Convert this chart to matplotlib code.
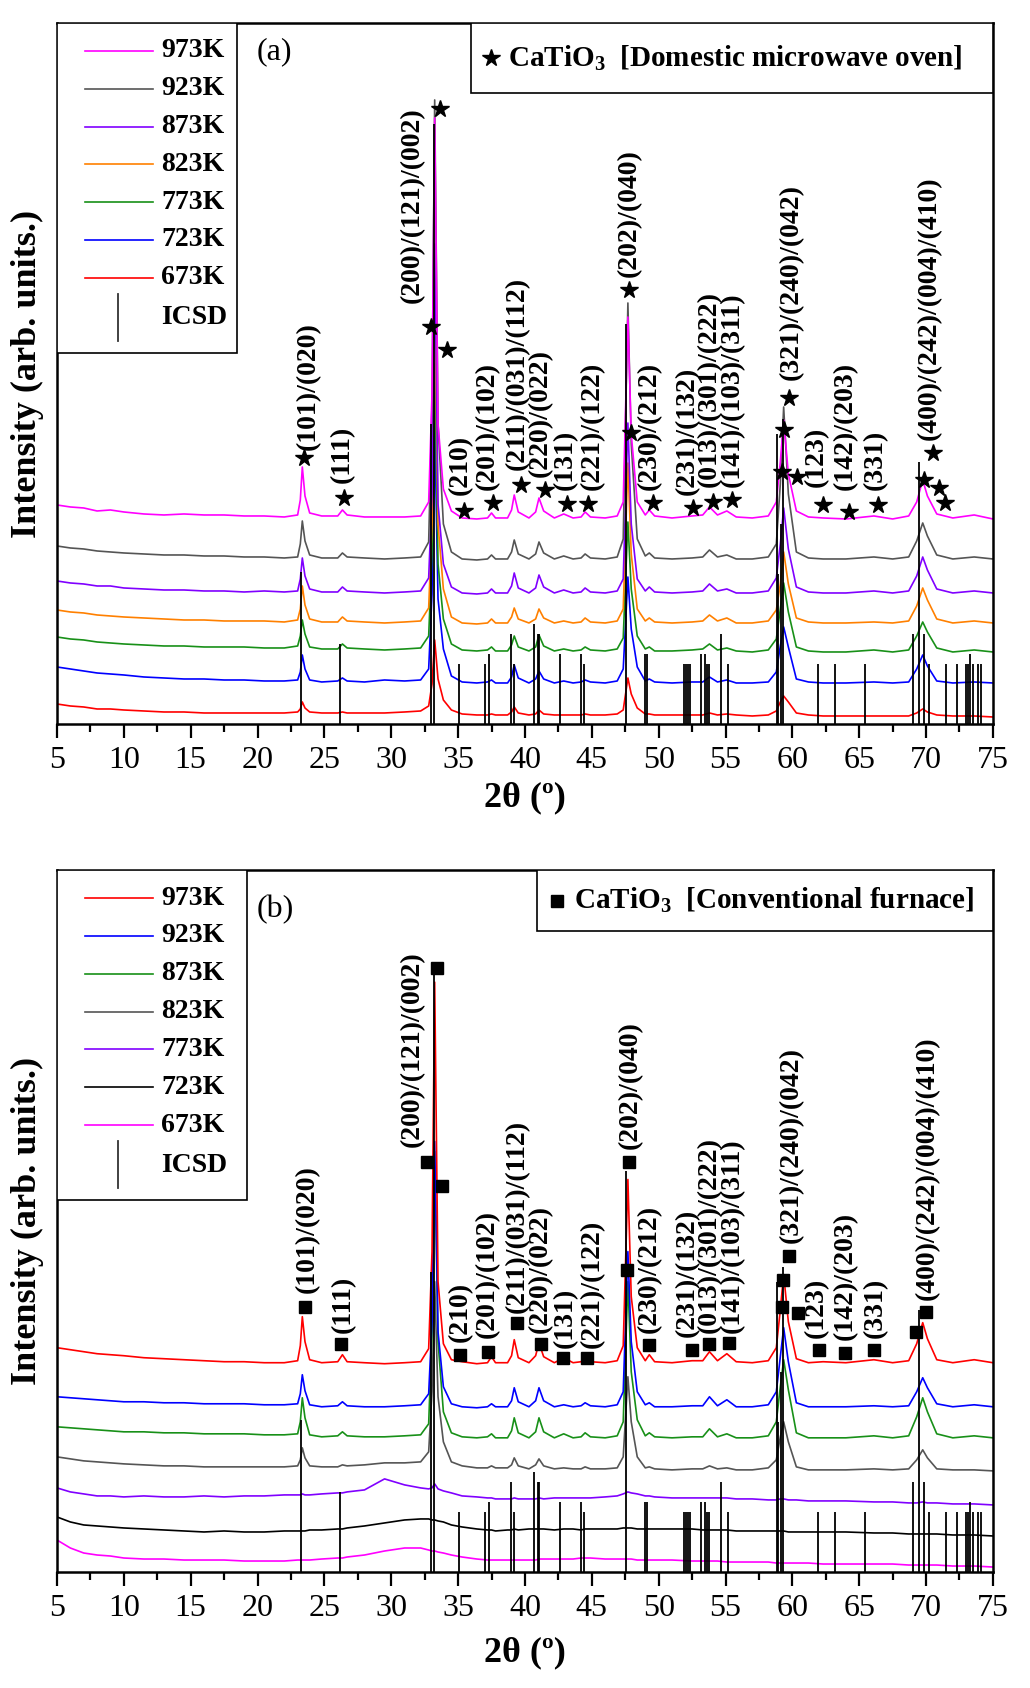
import numpy as np
import matplotlib.pyplot as plt
from matplotlib.patches import Rectangle
from matplotlib.ticker import MultipleLocator

plt.rcParams['font.family'] = ['Liberation Serif', 'DejaVu Serif']

# 2-theta grid shared by every pattern (degrees)
two_theta = [5, 6, 7, 8, 9, 10, 11.5, 13, 14.5, 16, 17.5, 19, 20.5, 22,
             23.0, 23.2, 23.35, 23.55, 23.9, 24.8, 26.0, 26.35, 26.7, 28, 29.5, 31, 32.2,
             32.8, 33.05, 33.25, 33.5, 33.9, 34.5, 35.3, 36.4, 37.2, 37.5, 37.8, 38.7,
             39.0, 39.2, 39.5, 40.3, 40.8, 41.05, 41.4, 42.2, 42.9, 43.6, 44.2, 44.5, 44.9,
             46.0, 46.9, 47.35, 47.7, 47.95, 48.4, 49.0, 49.3, 49.7, 51.0, 52.5, 53.3, 53.8, 54.4, 55.1, 55.8,
             57.0, 58.2, 58.8, 59.1, 59.35, 59.7, 60.3, 61.2, 62.3, 64.0, 66.1, 67.5, 68.7, 69.3, 69.75, 70.1, 70.8, 72.0, 73.6, 75]

temps = ['973K', '923K', '873K', '823K', '773K', '723K', '673K']

# (a) domestic microwave oven, intensities (arb. units, stacked)
mw_973 = [219, 217, 216, 213, 214, 212, 210, 209, 210, 209, 209, 208, 208, 207,
          209, 224, 257, 228, 211, 208, 208, 214, 209, 207, 207, 207, 208,
          222, 330, 606, 300, 235, 213, 206, 205, 206, 211, 206, 206,
          214, 229, 212, 206, 212, 226, 213, 206, 210, 206, 207, 212, 207,
          206, 208, 222, 407, 290, 222, 209, 214, 208, 206, 208, 209, 217, 209, 213, 207,
          206, 208, 222, 262, 304, 250, 213, 207, 206, 205, 208, 205, 208, 222, 244, 228, 210, 206, 209, 205]
mw_923 = [178, 176, 175, 173, 172, 171, 170, 169, 169, 168, 168, 167, 167, 166,
          167, 180, 203, 183, 169, 166, 166, 171, 167, 166, 165, 166, 167,
          182, 320, 624, 300, 200, 172, 165, 164, 165, 169, 165, 165,
          172, 184, 170, 165, 170, 182, 171, 165, 168, 165, 166, 170, 166,
          165, 167, 185, 421, 280, 185, 168, 171, 166, 165, 166, 167, 174, 167, 169, 165,
          165, 167, 180, 240, 317, 230, 172, 166, 165, 165, 167, 165, 167, 183, 201, 188, 169, 165, 167, 165]
mw_873 = [143, 141, 140, 138, 138, 136, 135, 134, 134, 133, 133, 132, 133, 132,
          133, 145, 166, 148, 135, 132, 132, 137, 133, 132, 131, 132, 133,
          146, 230, 480, 220, 160, 137, 131, 130, 131, 135, 131, 131,
          138, 151, 136, 131, 136, 149, 137, 131, 134, 131, 132, 136, 132,
          131, 133, 145, 301, 200, 145, 133, 137, 132, 131, 132, 133, 140, 133, 135, 131,
          131, 133, 146, 180, 216, 175, 137, 132, 131, 131, 133, 131, 133, 148, 167, 154, 135, 131, 133, 131]
mw_823 = [114, 112, 111, 109, 108, 107, 106, 105, 104, 104, 103, 103, 103, 102,
          104, 115, 138, 119, 105, 102, 102, 107, 103, 102, 101, 102, 103,
          116, 200, 440, 200, 135, 107, 101, 100, 101, 105, 101, 101,
          107, 116, 105, 101, 105, 115, 106, 101, 103, 101, 102, 106, 102,
          101, 103, 115, 261, 170, 115, 103, 106, 102, 101, 102, 103, 109, 103, 106, 101,
          101, 103, 114, 140, 172, 140, 106, 102, 101, 101, 102, 101, 103, 118, 136, 124, 105, 101, 103, 101]
mw_773 = [87, 85, 84, 82, 81, 80, 79, 78, 78, 77, 77, 77, 76, 76,
          78, 88, 104, 90, 77, 75, 75, 80, 76, 75, 74, 75, 76,
          88, 170, 360, 160, 105, 80, 74, 73, 74, 77, 73, 73,
          79, 88, 77, 73, 77, 89, 78, 73, 75, 73, 74, 77, 74,
          73, 75, 86, 202, 135, 88, 75, 77, 73, 73, 74, 75, 80, 74, 76, 73,
          72, 74, 85, 115, 141, 112, 77, 73, 72, 72, 74, 72, 74, 88, 102, 92, 76, 72, 74, 72]
mw_723 = [57, 55, 53, 51, 50, 49, 47, 46, 45, 45, 44, 44, 43, 43,
          44, 52, 69, 55, 44, 42, 43, 46, 43, 42, 44, 43, 44,
          55, 130, 300, 125, 75, 48, 42, 41, 42, 44, 41, 41,
          47, 59, 46, 41, 45, 53, 45, 41, 43, 41, 42, 44, 42,
          41, 43, 55, 147, 95, 57, 43, 45, 42, 41, 42, 42, 47, 42, 44, 41,
          41, 42, 52, 78, 97, 77, 45, 42, 41, 41, 42, 41, 42, 55, 69, 58, 43, 41, 42, 41]
mw_673 = [20, 18, 17, 15, 15, 14, 13, 12, 12, 11, 11, 11, 11, 11,
          12, 15, 22, 16, 12, 11, 11, 12, 11, 11, 11, 12, 13,
          18, 40, 84, 45, 24, 14, 10, 9, 9, 10, 9, 9,
          12, 17, 11, 9, 10, 14, 10, 9, 9, 9, 9, 10, 9,
          9, 10, 14, 46, 30, 16, 10, 10, 9, 9, 9, 9, 11, 9, 10, 9,
          8, 9, 13, 22, 28, 22, 11, 9, 8, 8, 8, 8, 8, 11, 15, 12, 9, 8, 8, 7]

# (b) conventional furnace
cf_973 = [224, 222, 220, 218, 217, 216, 214, 213, 212, 211, 210, 210, 209, 209,
          211, 226, 255, 230, 212, 209, 210, 217, 210, 209, 208, 209, 210,
          223, 320, 589, 290, 228, 212, 210, 208, 209, 215, 209, 209,
          216, 232, 214, 209, 216, 229, 215, 209, 214, 209, 210, 216, 210,
          209, 211, 226, 392, 275, 224, 211, 217, 210, 209, 211, 211, 220, 211, 218, 210,
          209, 211, 224, 262, 297, 250, 213, 209, 210, 209, 212, 209, 211, 228, 249, 233, 212, 209, 212, 209]
cf_923 = [175, 174, 173, 172, 171, 170, 170, 169, 169, 168, 168, 168, 167, 167,
          168, 178, 197, 181, 167, 165, 166, 170, 166, 165, 165, 166, 167,
          178, 250, 430, 240, 185, 168, 165, 164, 165, 168, 165, 165,
          171, 184, 170, 165, 171, 184, 171, 165, 167, 165, 166, 169, 166,
          165, 167, 180, 320, 230, 180, 167, 169, 165, 165, 166, 166, 175, 166, 172, 165,
          165, 167, 180, 215, 244, 210, 169, 165, 165, 165, 166, 165, 166, 180, 194, 184, 168, 165, 167, 165]
cf_873 = [145, 144, 143, 142, 141, 140, 140, 139, 139, 138, 138, 138, 137, 137,
          138, 150, 174, 154, 137, 135, 136, 140, 136, 135, 135, 136, 137,
          148, 240, 420, 230, 160, 139, 135, 134, 135, 138, 134, 134,
          141, 154, 139, 134, 140, 154, 140, 134, 138, 134, 135, 139, 135,
          134, 136, 150, 290, 200, 152, 136, 139, 135, 134, 135, 135, 143, 135, 138, 134,
          134, 136, 150, 185, 212, 182, 139, 134, 134, 134, 136, 134, 136, 155, 174, 160, 138, 134, 136, 134]
cf_823 = [115, 113, 111, 110, 109, 108, 107, 106, 106, 105, 105, 105, 105, 105,
          106, 112, 124, 114, 106, 105, 105, 107, 106, 107, 109, 109, 110,
          120, 180, 290, 175, 130, 110, 106, 104, 104, 106, 104, 104,
          107, 114, 106, 103, 107, 113, 106, 103, 104, 103, 103, 105, 103,
          103, 104, 115, 195, 150, 115, 104, 105, 103, 102, 103, 103, 106, 103, 104, 102,
          102, 104, 112, 135, 150, 130, 105, 102, 102, 102, 103, 102, 103, 112, 122, 114, 103, 102, 102, 101]
cf_773 = [84, 80, 78, 76, 76, 75, 76, 75, 75, 76, 75, 76, 76, 77,
          77, 77, 78, 77, 77, 78, 79, 79, 80, 82, 93, 87, 84,
          83, 84, 88, 83, 81, 79, 76, 75, 74, 74, 73, 73,
          73, 74, 73, 73, 73, 74, 73, 74, 74, 74, 74, 74, 74,
          75, 76, 78, 80, 79, 78, 76, 76, 75, 74, 74, 74, 74, 74, 74, 73,
          73, 72, 72, 73, 73, 72, 72, 71, 71, 71, 70, 70, 69, 69, 70, 69, 69, 68, 68, 67]
cf_723 = [55, 50, 47, 46, 45, 44, 43, 42, 41, 40, 41, 40, 40, 41,
          41, 41, 41, 41, 42, 42, 43, 43, 44, 46, 49, 52, 53,
          53, 52, 52, 51, 50, 47, 45, 43, 42, 42, 41, 42,
          42, 43, 42, 43, 43, 43, 43, 42, 43, 43, 42, 43, 43,
          43, 43, 44, 44, 44, 43, 43, 43, 43, 43, 43, 42, 42, 42, 42, 41,
          41, 41, 41, 41, 41, 40, 40, 40, 40, 40, 39, 39, 38, 38, 38, 38, 38, 37, 37, 36]
cf_673 = [32, 24, 19, 17, 16, 14, 13, 13, 12, 12, 12, 11, 11, 11,
          12, 12, 12, 12, 12, 13, 14, 14, 15, 17, 21, 24, 24,
          22, 21, 21, 20, 19, 17, 15, 13, 12, 12, 12, 12,
          12, 12, 12, 12, 12, 13, 13, 13, 13, 13, 14, 14, 14,
          13, 13, 13, 13, 13, 12, 12, 12, 12, 12, 11, 11, 11, 11, 10, 10,
          10, 10, 9, 9, 9, 9, 9, 9, 8, 8, 8, 8, 7, 7, 7, 7, 7, 6, 6, 5]

# ICSD reference reflections
icsd_pos = [23.25, 26.15, 33.0, 33.2, 35.05, 37.0, 37.3, 38.95, 39.15, 40.7, 40.95, 41.05,
            42.6, 44.2, 44.4, 47.55, 49.0, 49.1, 51.9, 52.05, 52.2, 52.35, 53.2, 53.45, 53.6,
            53.75, 54.65, 55.15, 58.85, 58.95, 59.15, 59.3, 61.95, 63.2, 65.47, 69.0, 69.45,
            69.87, 70.25, 71.5, 72.3, 73.0, 73.1, 73.3, 73.5, 73.86, 74.12]
icsd_int = [152, 80, 300, 600, 60, 60, 70, 90, 60, 100, 90, 90,
            70, 70, 60, 400, 70, 70, 60, 60, 60, 60, 70, 70, 60,
            60, 90, 60, 290, 150, 200, 305, 60, 60, 60, 90, 262,
            90, 60, 60, 60, 60, 60, 70, 60, 60, 60]

hkl = ['(101)/(020)', '(111)', '(200)/(121)/(002)', '(210)', '(201)/(102)',
       '(211)/(031)/(112)', '(220)/(022)', '(131)', '(221)/(122)', '(202)/(040)',
       '(230)/(212)', '(231)/(132)', '(013)/(301)/(222)', '(141)/(103)/(311)',
       '(321)/(240)/(042)', '(123)', '(142)/(203)', '(331)', '(400)/(242)/(004)/(410)']
hkl_x_a = [23.83, 26.36, 31.57, 35.16, 37.18, 39.42, 41.15, 43.02, 45.04, 47.78,
           49.28, 52.15, 53.8, 55.54, 59.93, 61.82, 63.97, 66.24, 70.27]
hkl_y_a = [274, 241, 421, 229, 234, 254, 247, 234, 234, 447,
           234, 229, 237, 237, 344, 237, 234, 234, 284]
hkl_x_b = [23.76, 26.44, 31.57, 35.16, 37.18, 39.42, 41.15, 43.02, 45.04, 47.85,
           49.28, 52.15, 53.8, 55.54, 59.93, 61.82, 63.97, 66.24, 70.12]
hkl_y_b = [279, 239, 424, 230, 234, 259, 239, 224, 224, 422,
           239, 235, 239, 239, 329, 234, 232, 234, 272]

star_x = [23.46, 26.44, 33.66, 32.94, 34.19, 35.46, 37.63, 39.72, 41.52, 43.17, 44.72,
          47.78, 47.9, 49.6, 52.6, 54.05, 55.49, 59.75, 59.37, 59.2, 60.32, 62.32, 64.22,
          66.43, 70.52, 69.83, 70.97, 71.4]
star_y = [266, 226, 615, 397, 374, 213, 221, 239, 234, 220, 220,
          434, 291, 221, 216, 222, 224, 326, 294, 252, 247, 219, 212,
          219, 271, 244, 236, 221]
square_x = [23.56, 26.28, 33.44, 32.69, 33.81, 35.18, 37.23, 39.37, 41.19, 42.87, 44.66,
            47.78, 47.66, 49.28, 52.52, 53.8, 55.24, 59.75, 59.33, 59.2, 60.45, 62.0, 63.97,
            66.11, 70.03, 69.28]
square_y = [265, 228, 603, 409, 385, 217, 220, 249, 228, 214, 214,
            409, 302, 227, 222, 228, 229, 316, 292, 265, 259, 222, 219,
            222, 260, 240]

colors_a = ['#ff00ff', '#555555', '#8000ff', '#ff8000', '#189018', '#0000ff', '#ff0000']
colors_b = ['#ff0000', '#0000ff', '#189018', '#555555', '#8000ff', '#000000', '#ff00ff']

fig = plt.figure(figsize=(10.3, 16.88), dpi=100)
ax_a = fig.add_axes([0.0553, 0.5711, 0.9087, 0.4153])
ax_b = fig.add_axes([0.0553, 0.0687, 0.9087, 0.4159])


def draw_panel(ax, curves, colors, marker, mx, my, lx, ly, legend_w, box_x, box_h,
               box_text, letter, letter_y):
    # lowest pattern first so the hottest one sits on top
    for y, c in reversed(list(zip(curves, colors))):
        ax.plot(two_theta, y, color=c, lw=1.2, zorder=2)
    ax.vlines(icsd_pos, 0, icsd_int, color='k', lw=1.3, zorder=3)

    ms = 13 if marker == '*' else 8
    ax.plot(mx, my, ls='none', marker=marker, ms=ms, color='k', zorder=5)
    for t, x, y in zip(hkl, lx, ly):
        ax.text(x, y, t, rotation=90, ha='center', va='bottom',
                fontsize=20, fontweight='bold', zorder=6)

    ax.set_xlim(5, 75)
    ax.set_ylim(0, 701)
    ax.set_yticks([])
    ax.set_xticks(np.arange(5, 76, 5))
    ax.xaxis.set_minor_locator(MultipleLocator(2.5))
    ax.tick_params(axis='x', which='major', direction='out', length=10, width=1.6,
                   labelsize=23, pad=6)
    ax.tick_params(axis='x', which='minor', direction='out', length=6, width=1.6)
    for s in ax.spines.values():
        s.set_linewidth(1.8)

    ax.set_ylabel('Intensity (arb. units.)', fontsize=26, fontweight='bold')
    ax.yaxis.set_label_coords(-0.014, 0.5)
    ax.set_xlabel('2θ (º)', fontsize=26, fontweight='bold', va='top')

    # temperature legend
    H = 701.0
    ax.add_patch(Rectangle((0, 1 - 330 / H), legend_w, 330 / H, transform=ax.transAxes,
                           fill=True, facecolor='white', edgecolor='k', lw=1.2, zorder=7))
    for i, (t, c) in enumerate(zip(temps, colors)):
        yy = 1 - (28 + 37.8 * i) / H
        ax.plot([0.0299, 0.1026], [yy, yy], color=c, lw=1.2, transform=ax.transAxes, zorder=8)
        ax.text(0.1111, yy, t, fontsize=20, fontweight='bold', va='center', ha='left',
                transform=ax.transAxes, zorder=8)
    ax.plot([0.0652, 0.0652], [1 - 271 / H, 1 - 318 / H], color='#333333', lw=1.3,
            transform=ax.transAxes, zorder=8)
    ax.text(0.1111, 1 - 295 / H, 'ICSD', fontsize=20, fontweight='bold', va='center',
            ha='left', transform=ax.transAxes, zorder=8)

    # phase box
    ax.add_patch(Rectangle((box_x, 1 - box_h / H), 1 - box_x, box_h / H, transform=ax.transAxes,
                           fill=True, facecolor='white', edgecolor='k', lw=1.2, zorder=7))
    yb = 1 - (box_h / 2) / H
    ax.plot([box_x + 0.021], [yb], marker=marker, ms=ms, color='k', ls='none',
            transform=ax.transAxes, zorder=8)
    ax.text(box_x + 0.04, yb, box_text, fontsize=21, fontweight='bold', va='center',
            ha='left', transform=ax.transAxes, zorder=8)

    ax.text(0.2137, letter_y, letter, fontsize=23, va='center', ha='left',
            transform=ax.transAxes)


draw_panel(ax_a, [mw_973, mw_923, mw_873, mw_823, mw_773, mw_723, mw_673], colors_a,
           '*', star_x, star_y, hkl_x_a, hkl_y_a, 0.1923, 0.4423, 70,
           r'CaTiO$_\mathregular{3}$  [Domestic microwave oven]', '(a)', 1 - 29 / 701)
ax_a.xaxis.set_label_coords(0.5, -0.082)

draw_panel(ax_b, [cf_973, cf_923, cf_873, cf_823, cf_773, cf_723, cf_673], colors_b,
           's', square_x, square_y, hkl_x_b, hkl_y_b, 0.203, 0.5128, 61,
           r'CaTiO$_\mathregular{3}$  [Conventional furnace]', '(b)', 1 - 40 / 701)
ax_b.xaxis.set_label_coords(0.5, -0.092)

fig.savefig('out.png', dpi=100)
